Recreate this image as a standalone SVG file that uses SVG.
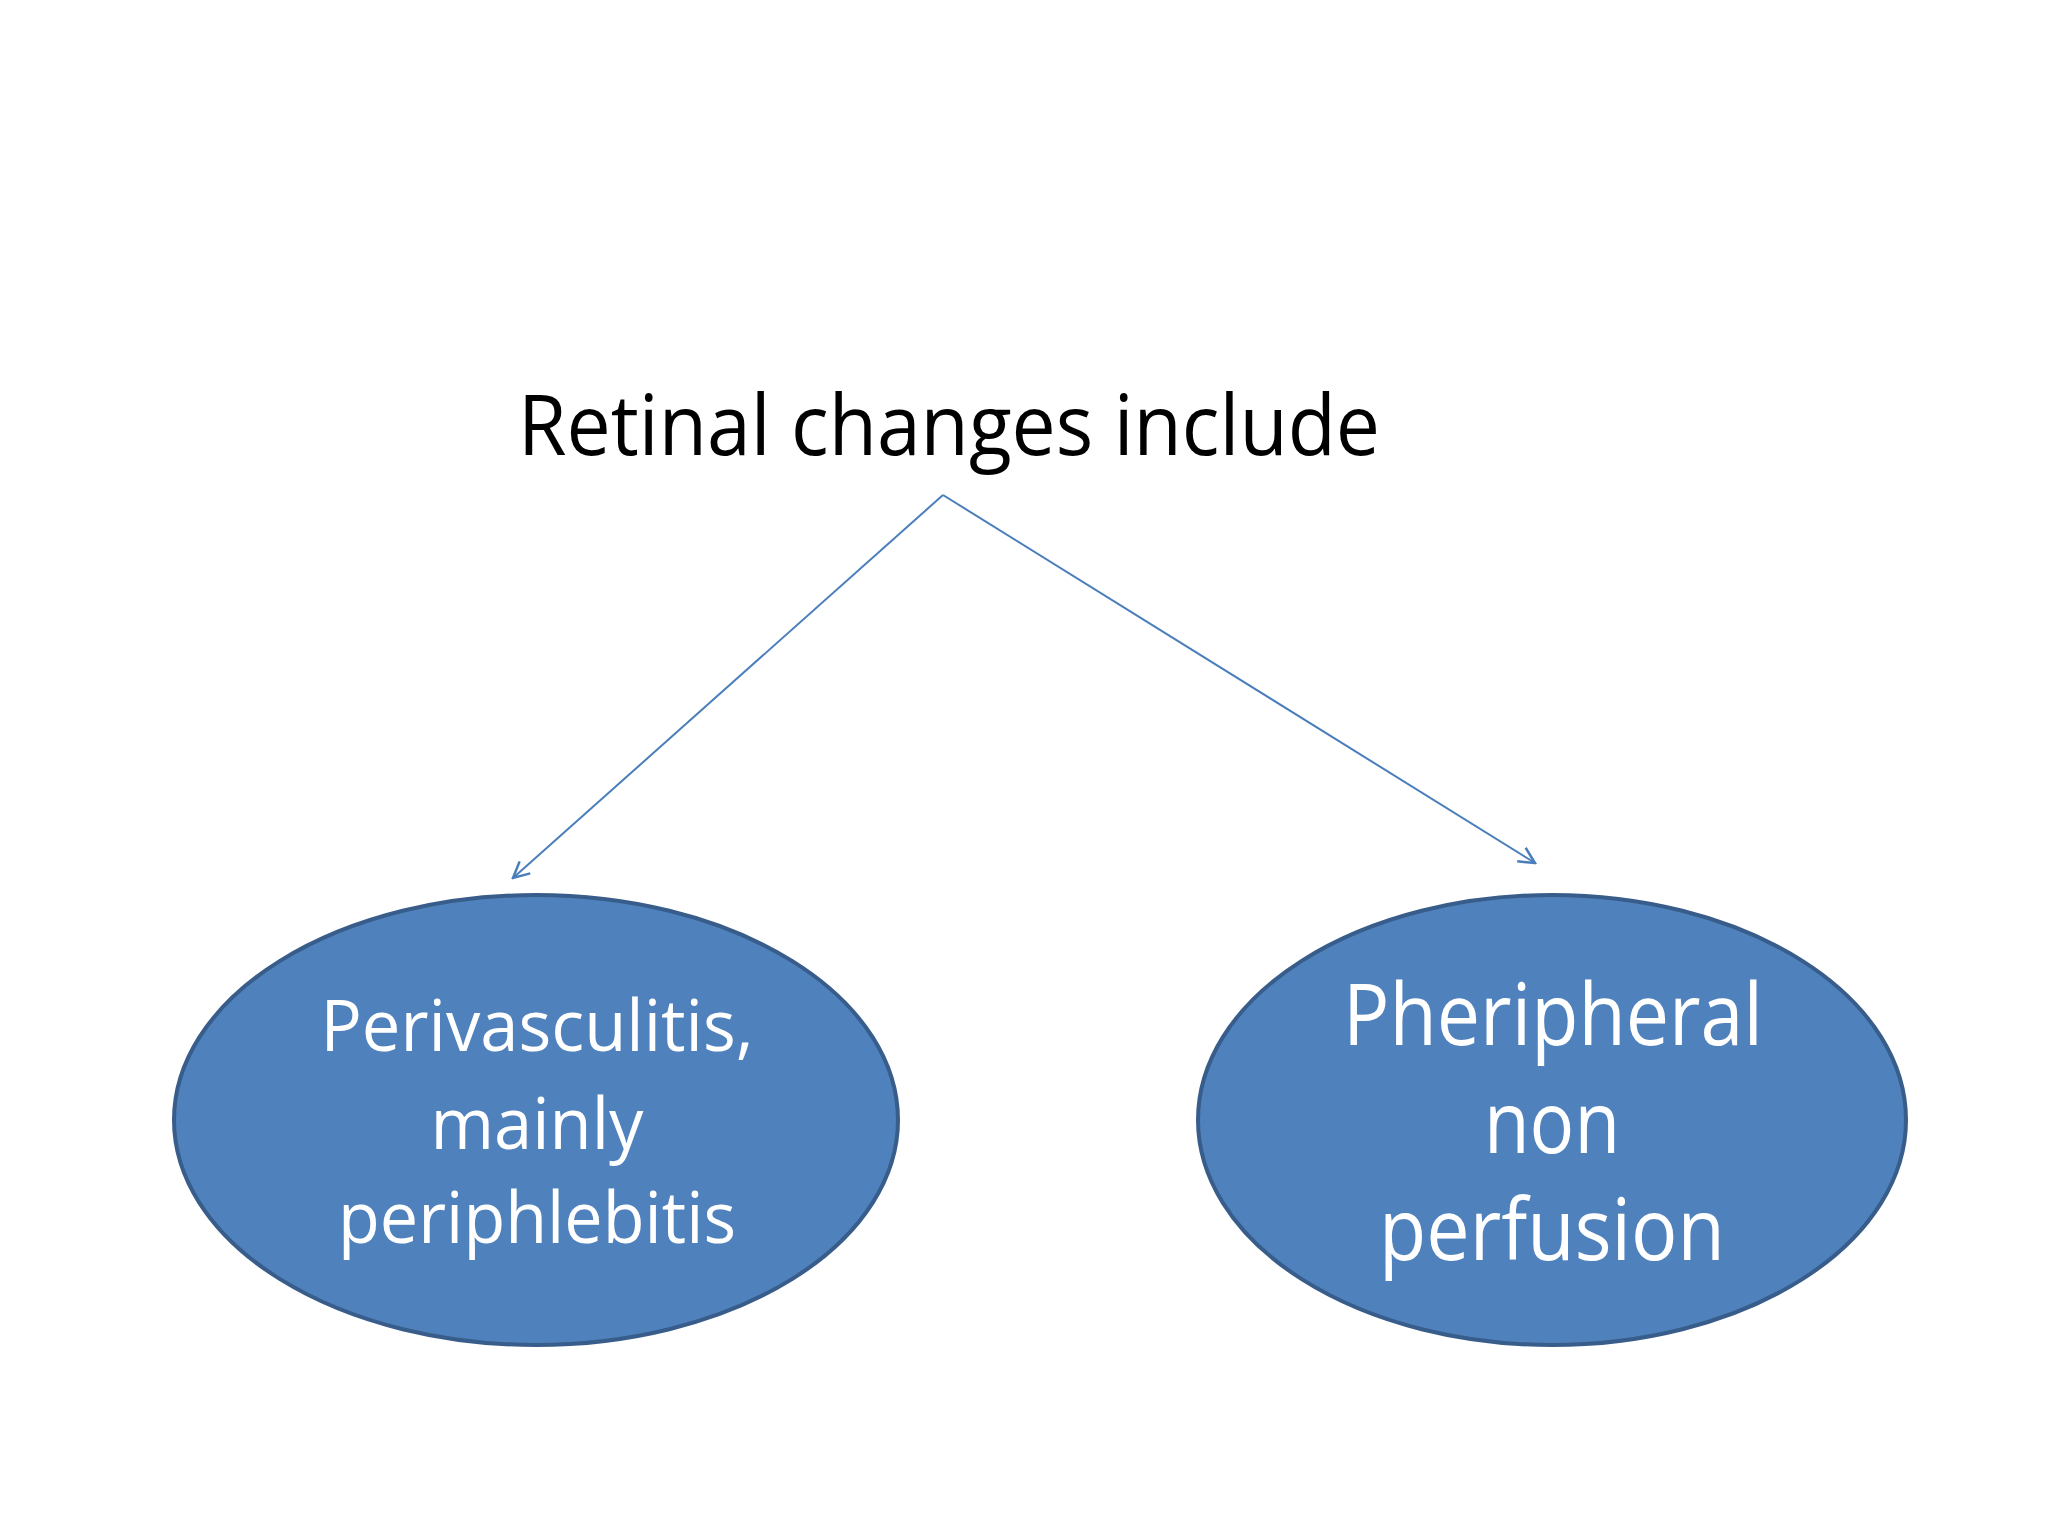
<svg xmlns="http://www.w3.org/2000/svg" width="2048" height="1536" viewBox="0 0 2048 1536">
<style>
.t{font-family:"Open Sans","Noto Sans","Liberation Sans",sans-serif;text-anchor:middle}
.node{fill:#4F81BD;stroke:#385D8A;stroke-width:4}
.lbl{fill:#FFFFFF}
.conn{stroke:#4A7EBB;stroke-width:2;fill:none}
</style>
<defs>
<marker id="arr" viewBox="0 0 20 20" refX="18" refY="10" markerWidth="20" markerHeight="20" markerUnits="userSpaceOnUse" orient="auto">
<path d="M2,2 L18,10 L2,18" fill="none" stroke="#4A7EBB" stroke-width="2.5"/>
</marker>
</defs>
<rect width="2048" height="1536" fill="#FFFFFF"/>
<g id="title">
<text class="t" x="949" y="455" font-size="84" fill="#000000" textLength="862" lengthAdjust="spacingAndGlyphs">Retinal changes include</text>
</g>
<g id="connectors">
<line class="conn" x1="943" y1="495" x2="513" y2="878" marker-end="url(#arr)"/>
<line class="conn" x1="943" y1="495" x2="1535" y2="863" marker-end="url(#arr)"/>
</g>
<g id="node-left">
<ellipse class="node" cx="536" cy="1120" rx="362" ry="225"/>
<text class="t lbl" font-size="72"><tspan x="537" y="1051" textLength="433" lengthAdjust="spacingAndGlyphs">Perivasculitis,</tspan><tspan x="537" y="1149" textLength="213" lengthAdjust="spacingAndGlyphs">mainly</tspan><tspan x="537" y="1243" textLength="398" lengthAdjust="spacingAndGlyphs">periphlebitis</tspan></text>
</g>
<g id="node-right">
<ellipse class="node" cx="1552" cy="1120" rx="354" ry="225"/>
<text class="t lbl" font-size="86"><tspan x="1553" y="1045" textLength="420" lengthAdjust="spacingAndGlyphs">Pheripheral</tspan><tspan x="1552" y="1153" textLength="136" lengthAdjust="spacingAndGlyphs">non</tspan><tspan x="1552" y="1260" textLength="346" lengthAdjust="spacingAndGlyphs">perfusion</tspan></text>
</g>
</svg>
